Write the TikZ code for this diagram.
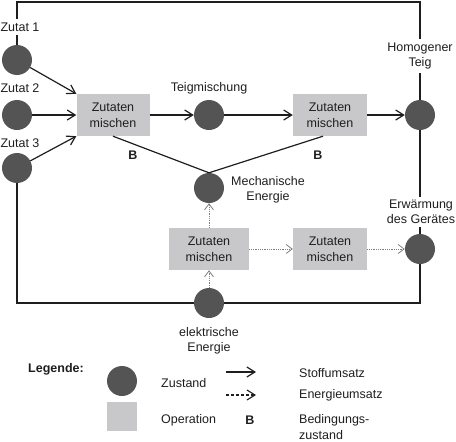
\documentclass[tikz,border=0pt]{standalone}
\usepackage{fontspec}
\setmainfont{Liberation Sans}
\usetikzlibrary{arrows.meta,backgrounds}
\definecolor{st}{HTML}{545454}
\definecolor{op}{HTML}{C8C8CA}
\definecolor{ink}{HTML}{1E1E1E}
\tikzset{
 zust/.style={circle,fill=st,minimum size=30pt,inner sep=0pt},
 oper/.style={fill=op,minimum width=74pt,minimum height=42pt,inner sep=0pt,align=center,font=\fontsize{12.5}{16}\selectfont,text=ink},
 lab/.style={font=\fontsize{12.5}{15.5}\selectfont,align=center,inner sep=1pt,text=ink},
 onlab/.style={lab,fill=white,inner sep=4pt},
 stoff/.style={line width=1.2pt,draw=ink,-{Straight Barb[length=8pt,width=10pt]}},
 energ/.style={line width=0.8pt,draw=gray,densely dotted,-{Straight Barb[length=6pt,width=9pt]}},
 legenerg/.style={line width=1.1pt,draw=ink,dashed,dash pattern=on 3pt off 2pt,-{Straight Barb[length=8pt,width=10pt]}},
 plain/.style={line width=1.2pt,draw=ink},
 bed/.style={font=\fontsize{12.5}{15}\selectfont\bfseries,text=ink,inner sep=1pt},
}
\begin{document}
\begin{tikzpicture}[x=1pt,y=-1pt]
\useasboundingbox (0,0) rectangle (456,442);
% states
\node[zust] (z1) at (17,60) {};
\node[zust] (z2) at (17,115) {};
\node[zust] (z3) at (17,168) {};
\node[zust] (tm) at (209,115) {};
\node[zust] (ht) at (420,115) {};
\node[zust] (me) at (209,188) {};
\node[zust] (ew) at (420,249) {};
\node[zust] (el) at (209,303) {};
% operations
\node[oper,minimum width=73pt] (op1) at (113,115) {Zutaten\\mischen};
\node[oper] (op2) at (330,115) {Zutaten\\mischen};
\node[oper,minimum width=80pt] (op3) at (209,249) {Zutaten\\mischen};
\node[oper] (op4) at (330,249) {Zutaten\\mischen};
% labels
\node[onlab] (lz1) at (20,27) {Zutat 1};
\node[lab] (lz2) at (20,88) {Zutat 2};
\node[lab] (lz3) at (20,143) {Zutat 3};
\node[lab] (ltm) at (209,88) {Teigmischung};
\node[onlab] (lht) at (420,56) {Homogener\\Teig};
\node[onlab,inner sep=3pt] (lew) at (421,212) {Erwärmung\\des Gerätes};
\node[lab] (lme) at (268,190) {Mechanische\\Energie};
\node[lab] (lel) at (209,341) {elektrische\\Energie};
\node[bed] (b1) at (133,155) {B};
\node[bed] (b2) at (318,155) {B};
% loop lines
\coordinate (top) at (0,2);
\begin{pgfonlayer}{background}
\draw[plain] (z1.north) -- (z1 |- top) -- (ht |- top) -- (ht.north);
\draw[plain] (ht.south) -- (ew.north);
\draw[plain] (z3.south) -- (z3 |- el) -- (ew |- el) -- (ew.south);
\end{pgfonlayer}
% material flow
\draw[stoff] (z1) -- (op1.north west);
\draw[stoff] (z2) -- (op1);
\draw[stoff] (z3) -- (op1.south west);
\draw[stoff] (op1) -- (tm);
\draw[stoff] (tm) -- (op2);
\draw[stoff] (op2) -- (ht);
\draw[plain] (op1.south) -- (me.north);
\draw[plain] ([xshift=-7pt]op2.south) -- (me.north);
% energy flow
\draw[energ] (op3) -- (me);
\draw[energ] (el) -- (op3);
\draw[energ] (op3) -- (op4);
\draw[energ] (op4) -- (ew);
% legend
\node[bed,anchor=west] (leg) at (27,369) {Legende:};
\node[zust] (lgz) at (122,381) {};
\node[fill=op,minimum width=30pt,minimum height=29pt,inner sep=0pt] (lgo) at (122,416) {};
\node[lab,anchor=west] (lgzt) at (160,383) {Zustand};
\node[lab,anchor=west] (lgot) at (160,420) {Operation};
\coordinate (a1) at (226,372);
\coordinate (a2) at (256,372);
\coordinate (a3) at (226,395);
\coordinate (a4) at (256,395);
\draw[stoff] (a1) -- (a2);
\draw[legenerg] (a3) -- (a4);
\node[bed] (lgb) at (250,420) {B};
\node[lab,anchor=west] (lgs) at (298,373) {Stoffumsatz};
\node[lab,anchor=west] (lge) at (298,395) {Energieumsatz};
\node[lab,anchor=west,align=left] (lgbt) at (298,427) {Bedingungs-\\zustand};
\end{tikzpicture}
\end{document}
